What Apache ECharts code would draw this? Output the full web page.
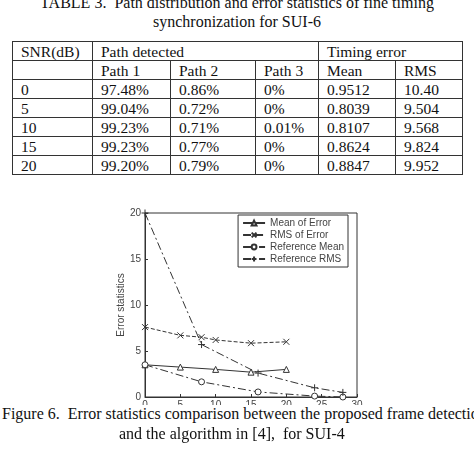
<!DOCTYPE html><html><head><meta charset="utf-8">
<script src="https://cdn.jsdelivr.net/npm/echarts@6/dist/echarts.min.js"></script>
<style>
body{margin:0;width:474px;height:455px;overflow:hidden;background:#fff;font-family:"Liberation Serif",serif;position:relative}
#c{position:absolute;left:0;top:0;width:474px;height:455px}
.t{position:absolute;left:0;width:474px;text-align:center;font-size:16px;color:#111;white-space:nowrap}
table{position:absolute;left:12px;top:41px;border-collapse:collapse;font-size:15.5px;color:#111}
td{border:1.5px solid #333;height:18px;padding:0 0 0 8px;line-height:17px}
.cap{position:absolute;left:5px;font-size:16px;color:#111;white-space:nowrap}
</style></head><body>
<div class="t" style="top:-6px">TABLE 3.&nbsp; Path distribution and error statistics of fine timing</div>
<div class="t" style="top:13px">synchronization for SUI-6</div>
<table id="tb"></table>
<div id="c"></div>
<div class="cap" style="top:405px;left:2px;background:#fff">Figure 6.&nbsp; Error statistics comparison between the proposed frame detection</div>
<div class="cap" style="top:425px;left:119px">and the algorithm in [4],&nbsp; for SUI-4</div>
<script>
const snrRows=['0','5','10','15','20'];
const path1=['97.48%','99.04%','99.23%','99.23%','99.20%'];
const path2=['0.86%','0.72%','0.71%','0.77%','0.79%'];
const path3=['0%','0%','0.01%','0%','0%'];
const meanErr=['0.9512','0.8039','0.8107','0.8624','0.8847'];
const rmsErr=['10.40','9.504','9.568','9.824','9.952'];
const colW=[80,78,85,63,77,67];
let h='<tr><td style="width:'+(colW[0]-9)+'px">SNR(dB)</td><td colspan="3">Path detected</td><td colspan="2">Timing error</td></tr>';
h+='<tr><td></td><td style="width:'+(colW[1]-9)+'px">Path 1</td><td style="width:'+(colW[2]-9)+'px">Path 2</td><td style="width:'+(colW[3]-9)+'px">Path 3</td><td style="width:'+(colW[4]-9)+'px">Mean</td><td style="width:'+(colW[5]-9)+'px">RMS</td></tr>';
snrRows.forEach((s,i)=>{h+='<tr><td>'+s+'</td><td>'+path1[i]+'</td><td>'+path2[i]+'</td><td>'+path3[i]+'</td><td>'+meanErr[i]+'</td><td>'+rmsErr[i]+'</td></tr>';});
document.getElementById('tb').innerHTML=h;

const meanOfError=[[0,3.5],[5,3.25],[10,3.0],[15,2.7],[20,3.0]];
const rmsOfError=[[0,7.6],[5,6.7],[8,6.5],[10,6.2],[15,5.85],[20,6.0]];
const refMean=[[0,3.5],[8,1.65],[16,0.55],[24,0.1],[28,0.0]];
const refRms=[[0,20],[8,5.7],[16,2.6],[24,1.0],[28,0.5]];
const names=['Mean of Error','RMS of Error','Reference Mean','Reference RMS'];

const ch=echarts.init(document.getElementById('c'));
const mk=(name,data,sym,size,type)=>({name,type:'line',data,symbol:sym,symbolSize:size,
  lineStyle:{color:'#333',width:1,type},itemStyle:{color:'#fff',borderColor:'#333',borderWidth:1},animation:false});
const cross='path://M0,0L10,10M10,0L0,10';
const plus='path://M5,0L5,10M0,5L10,5';
ch.setOption({
  textStyle:{fontFamily:'Liberation Sans',color:'#444'},
  grid:{left:145,right:117,top:213,bottom:58},
  xAxis:{type:'value',min:0,max:30,interval:5,name:'SNR(dB)',nameLocation:'middle',nameGap:12,
    nameTextStyle:{fontSize:10,color:'#444'},
    axisLine:{show:true,lineStyle:{color:'#333'}},axisTick:{inside:true,length:3,lineStyle:{color:'#333'}},
    axisLabel:{fontSize:10,color:'#444',margin:3},splitLine:{show:false}},
  yAxis:{type:'value',min:0,max:20,interval:5,name:'Error statistics',nameLocation:'middle',nameGap:16,
    nameTextStyle:{fontSize:10,color:'#444'},
    axisLine:{show:true,lineStyle:{color:'#333'}},axisTick:{inside:true,length:3,lineStyle:{color:'#333'}},
    axisLabel:{fontSize:10,color:'#444',margin:4},splitLine:{show:false}},
  legend:{orient:'vertical',right:126,top:215,data:names,itemWidth:22,itemHeight:6,itemGap:2,
    backgroundColor:'#fff',borderColor:'#333',borderWidth:1,padding:[3,4],
    textStyle:{fontSize:10,color:'#444'}},
  series:[
    mk(names[0],meanOfError,'triangle',6,'solid'),
    mk(names[1],rmsOfError,cross,6,'dashed'),
    mk(names[2],refMean,'circle',6,[8,3,2,3]),
    mk(names[3],refRms,plus,7,[8,3,2,3])
  ]
});
ch.setOption({graphic:[{type:'rect',shape:{x:145,y:213,width:212,height:184},style:{fill:'none',stroke:'#333',lineWidth:1},silent:true}]});
</script></body></html>
